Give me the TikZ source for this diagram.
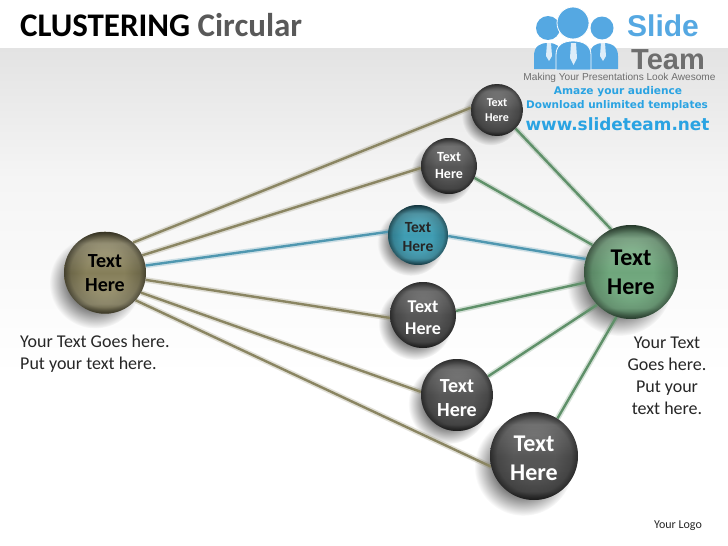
\documentclass[tikz,border=0pt]{standalone}
\usepackage{fontspec}
\setmainfont{Carlito}
\newfontfamily\logofont{Liberation Sans}
\newfontfamily\webfont{DejaVu Sans}
\usetikzlibrary{fadings}
\pgfdeclarelayer{shadowlayer}
\pgfdeclarelayer{linelayer}
\pgfsetlayers{shadowlayer,linelayer,main}
\definecolor{lineolive}{HTML}{8A8562}
\definecolor{linegreen}{HTML}{5F9069}
\definecolor{lineteal}{HTML}{4F97B0}
\definecolor{logoblue}{HTML}{55A8E2}
\definecolor{webblue}{HTML}{2AA3E2}
\definecolor{logogray}{HTML}{6E6E6E}
\pgfdeclareverticalshading{darkball}{100bp}{color(0bp)=(black!80); color(25bp)=(black!80); color(30bp)=(black!68); color(50bp)=(black!66); color(68bp)=(black!50); color(75bp)=(black!65); color(100bp)=(black!65)}
\definecolor{oa}{HTML}{6A6444}\definecolor{ob}{HTML}{A39D7C}\definecolor{oc}{HTML}{857E59}\definecolor{od}{HTML}{A8A283}
\pgfdeclareverticalshading{oliveball}{100bp}{color(0bp)=(oa); color(25bp)=(oa); color(31bp)=(ob); color(50bp)=(oc); color(68bp)=(od); color(75bp)=(oa); color(100bp)=(oa)}
\definecolor{ga}{HTML}{4C7256}\definecolor{gb}{HTML}{7DB38A}\definecolor{gc}{HTML}{6FA67C}\definecolor{gd}{HTML}{8DB896}
\pgfdeclareverticalshading{greenball}{100bp}{color(0bp)=(ga); color(25bp)=(ga); color(31bp)=(gb); color(50bp)=(gc); color(68bp)=(gd); color(75bp)=(ga); color(100bp)=(ga)}
\definecolor{ta}{HTML}{2A6A7C}\definecolor{tb}{HTML}{4FA9BE}\definecolor{tc}{HTML}{3F9CB2}\definecolor{td}{HTML}{5AA7B8}
\pgfdeclareverticalshading{tealball}{100bp}{color(0bp)=(ta); color(25bp)=(ta); color(31bp)=(tb); color(50bp)=(tc); color(68bp)=(td); color(75bp)=(ta); color(100bp)=(ta)}
\pgfdeclareverticalshading{pagebg}{100bp}{color(0bp)=(white); color(25bp)=(white); color(42bp)=(white); color(62bp)=(black!4); color(75bp)=(black!11); color(100bp)=(black!11)}
\pgfdeclareradialshading{rimshade}{\pgfpointorigin}{color(0bp)=(black); color(12bp)=(black); color(21bp)=(black!82); color(25bp)=(black!50); color(50bp)=(black!50)}
\pgfdeclarefading{rimfade}{\pgfuseshading{rimshade}}
\pgfdeclareradialshading{blurshade}{\pgfpointorigin}{color(0bp)=(white); color(15bp)=(white); color(25bp)=(black); color(50bp)=(black)}
\pgfdeclarefading{blurfade}{\pgfuseshading{blurshade}}
\tikzset{
  ballnode/.style={circle,inner sep=0pt,align=center,
    path picture={\fill[black,path fading=rimfade] (path picture bounding box.south west) rectangle (path picture bounding box.north east);}},
  darkstyle/.style={ballnode,shading=darkball,text=white},
  olivestyle/.style={ballnode,shading=oliveball,text=black},
  greenstyle/.style={ballnode,shading=greenball,text=black},
  tealstyle/.style={ballnode,shading=tealball,text=black!85},
  ballshadow/.style={black!50,path fading=blurfade},
  bodytext/.style={font=\fontsize{18}{22}\selectfont,text=black!85,inner sep=0pt},
  olivelink/.style={lineolive,line width=2.4pt,preaction={draw=lineolive,opacity=.25,line width=5.5pt}},
  greenlink/.style={linegreen,line width=2.4pt,preaction={draw=linegreen,opacity=.25,line width=5.5pt}},
  teallink/.style={lineteal,line width=2.4pt,preaction={draw=lineteal,opacity=.25,line width=5.5pt}},
  logobody/.style={fill=logoblue},
  logotie/.style={fill=white,opacity=.8},
}
\newcommand{\ball}[8]{%
  \begin{pgfonlayer}{shadowlayer}
    \fill[ballshadow] ({#2-0.24*#4},{#3+0.24*#4}) circle [radius={#4*1.12}];
  \end{pgfonlayer}
  \node[#5,minimum size={2*#4*1pt},font=\bfseries\fontsize{#6}{#7}\selectfont] (#1) at (#2,#3) {#8};
}
\begin{document}
\begin{tikzpicture}[x=1pt,y=-1pt]
\useasboundingbox (0,0) rectangle (728,546);
\begin{pgfonlayer}{shadowlayer}
  \fill[white] (0,0) rectangle (728,546);
  \shade[shading=pagebg] (0,48) rectangle (728,546);
\end{pgfonlayer}
% title
\node[anchor=base west,inner sep=0pt,font=\bfseries\fontsize{33}{33}\selectfont] (title) at (20,36) {CLUSTERING \textcolor{black!65}{Circular}};
% balls
\ball{l}{105}{272.7}{41}{olivestyle}{20}{24}{Text\\Here}
\ball{r}{631}{272}{47}{greenstyle}{24}{29}{Text\\Here}
\ball{a}{497}{110}{26}{darkstyle}{12}{15}{Text\\Here}
\ball{b}{449}{166}{28}{darkstyle}{14}{17}{Text\\Here}
\ball{c}{418}{235}{30}{tealstyle}{15.5}{19}{\rule{0pt}{14pt}Text\\Here}
\ball{d}{423}{315}{33}{darkstyle}{18}{22}{\rule{0pt}{17.5pt}Text\\Here}
\ball{e}{457}{395}{36}{darkstyle}{20}{24}{\rule{0pt}{18.6pt}Text\\Here}
\ball{f}{534}{456}{44}{darkstyle}{24}{29}{\rule{0pt}{21pt}Text\\Here}
% connectors
\begin{pgfonlayer}{linelayer}
  \draw[olivelink] (l.47) -- (a.175);
  \draw[olivelink] (l.25) -- (b.184);
  \draw[teallink]  (l.10) -- (c.174);
  \draw[olivelink] (l.-10) -- (d.185);
  \draw[olivelink] (l.-29) -- (e.175);
  \draw[olivelink] (l.-42) -- (f.194);
  \draw[greenlink] (a.-45) -- (r.115);
  \draw[greenlink] (b.-25) -- (r.145);
  \draw[teallink]  (c.-2) -- (r.164);
  \draw[greenlink] (d.7) -- (r.193);
  \draw[greenlink] (e.31) -- (r.224);
  \draw[greenlink] (f.58) -- (r.252);
\end{pgfonlayer}
% captions
\node[bodytext,anchor=west,align=left] (lefttext) at (20,354) {Your Text Goes here.\\Put your text here.};
\node[bodytext,anchor=center,align=center] (righttext) at (667,375.5) {Your Text\\Goes here.\\Put your\\text here.};
\node[anchor=center,inner sep=0pt,text=black!85,font=\fontsize{12}{14}\selectfont] (yourlogo) at (678,526) {Your Logo};
% logo figures
\fill[logobody] (548,28) circle [radius=12];
\fill[logobody] (602,28) circle [radius=11.5];
\fill[logobody] (534,69) -- (534,56) .. controls (534,46) and (540,43) .. (548,43) .. controls (556,43) and (562,46) .. (562,56) -- (562,69) -- cycle;
\fill[logobody] (590,69) -- (590,56) .. controls (590,46) and (596,43) .. (603,43) .. controls (611,43) and (618,46) .. (618,56) -- (618,69) -- cycle;
\fill[logobody,draw=white,line width=.8pt] (573,23) circle [radius=16];
\fill[logobody,draw=white,line width=.8pt] (556,70) -- (556,55) .. controls (556,45) and (563,41) .. (573,41) .. controls (583,41) and (591,45) .. (591,55) -- (591,70) -- cycle;
\fill[logotie] (547,43) -- (551,43) -- (552,56) -- (549,61) -- (546,56) -- cycle;
\fill[logotie] (571,43) -- (576,43) -- (577,58) -- (573.5,65) -- (570,58) -- cycle;
\fill[logotie] (601,43) -- (605,43) -- (606,56) -- (603,61) -- (600,56) -- cycle;
% logo text
\node[anchor=base west,inner sep=0pt,text=logoblue,font=\logofont\bfseries\fontsize{30}{33}\selectfont] (slide) at (627,36) {Slide};
\node[anchor=base west,inner sep=0pt,text=logogray,font=\logofont\bfseries\fontsize{29}{30}\selectfont] (team) at (631,69.5) {Team};
\node[anchor=center,inner sep=0pt,text=logogray,font=\logofont\fontsize{10.1}{12}\selectfont] (slogan) at (619.5,78) {Making Your Presentations Look Awesome};
\node[anchor=center,inner sep=0pt,text=webblue,font=\webfont\bfseries\fontsize{10.6}{12}\selectfont] (amaze) at (618,92) {Amaze your audience};
\node[anchor=center,inner sep=0pt,text=webblue,font=\webfont\bfseries\fontsize{10.5}{12}\selectfont] (download) at (617,106) {Download unlimited templates};
\node[anchor=center,inner sep=0pt,text=webblue,font=\webfont\bfseries\fontsize{16.9}{18}\selectfont] (web) at (617.5,124) {www.slideteam.net};
\end{tikzpicture}
\end{document}
